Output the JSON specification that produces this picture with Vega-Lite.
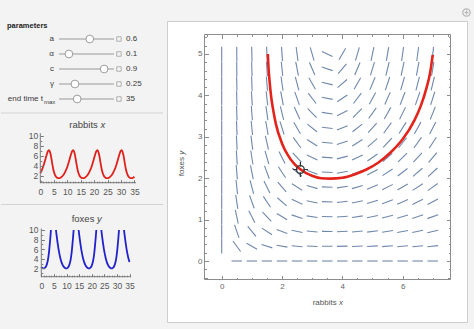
{
"$schema":"https://vega.github.io/schema/vega-lite/v6.json",
"background":"#f3f3f3",
"padding":0,
"spacing":1,
"config":{"view":{"stroke":null},"font":"Liberation Sans"},
"datasets":{
"params":[{"row":1,"label":"a","value":"0.6","pos":0.56},{"row":2,"label":"α","value":"0.1","pos":0.18},{"row":3,"label":"c","value":"0.9","pos":0.82},{"row":4,"label":"γ","value":"0.25","pos":0.29},{"row":5,"label":"","value":"35","pos":0.33}],
"field":[
{"x":0,"y":0.357,"a":90},{"x":0,"y":0.714,"a":90},{"x":0,"y":1.071,"a":90},{"x":0,"y":1.429,"a":90},{"x":0,"y":1.786,"a":90},{"x":0,"y":2.143,"a":90},{"x":0,"y":2.5,"a":90},{"x":0,"y":2.857,"a":90},{"x":0,"y":3.214,"a":90},{"x":0,"y":3.571,"a":90},{"x":0,"y":3.929,"a":90},{"x":0,"y":4.286,"a":90},{"x":0,"y":4.643,"a":90},{"x":0,"y":5,"a":90},
{"x":0.5,"y":0,"a":0},{"x":1,"y":0,"a":0},{"x":1.5,"y":0,"a":0},{"x":2,"y":0,"a":0},{"x":2.5,"y":0,"a":0},{"x":3,"y":0,"a":0},{"x":3.5,"y":0,"a":0},{"x":4,"y":0,"a":0},{"x":4.5,"y":0,"a":0},{"x":5,"y":0,"a":0},{"x":5.5,"y":0,"a":0},{"x":6,"y":0,"a":0},{"x":6.5,"y":0,"a":0},{"x":7,"y":0,"a":0},
{"x":0.5,"y":0.357,"a":53.6},{"x":0.5,"y":0.714,"a":71.0},{"x":0.5,"y":1.071,"a":77.9},{"x":0.5,"y":1.429,"a":81.5},{"x":0.5,"y":1.786,"a":83.7},{"x":0.5,"y":2.143,"a":85.2},{"x":0.5,"y":2.5,"a":86.3},{"x":0.5,"y":2.857,"a":87.1},{"x":0.5,"y":3.214,"a":87.7},{"x":0.5,"y":3.571,"a":88.2},{"x":0.5,"y":3.929,"a":88.6},{"x":0.5,"y":4.286,"a":88.9},{"x":0.5,"y":4.643,"a":89.2},{"x":0.5,"y":5,"a":89.5},
{"x":1,"y":0.357,"a":29.6},{"x":1,"y":0.714,"a":50.5},{"x":1,"y":1.071,"a":62.9},{"x":1,"y":1.429,"a":70.4},{"x":1,"y":1.786,"a":75.3},{"x":1,"y":2.143,"a":78.7},{"x":1,"y":2.5,"a":81.1},{"x":1,"y":2.857,"a":83.0},{"x":1,"y":3.214,"a":84.5},{"x":1,"y":3.571,"a":85.7},{"x":1,"y":3.929,"a":86.6},{"x":1,"y":4.286,"a":87.5},{"x":1,"y":4.643,"a":88.1},{"x":1,"y":5,"a":88.7},
{"x":1.5,"y":0.357,"a":17.0},{"x":1.5,"y":0.714,"a":33.2},{"x":1.5,"y":1.071,"a":46.5},{"x":1.5,"y":1.429,"a":56.5},{"x":1.5,"y":1.786,"a":64.0},{"x":1.5,"y":2.143,"a":69.6},{"x":1.5,"y":2.5,"a":73.9},{"x":1.5,"y":2.857,"a":77.2},{"x":1.5,"y":3.214,"a":79.8},{"x":1.5,"y":3.571,"a":82.0},{"x":1.5,"y":3.929,"a":83.8},{"x":1.5,"y":4.286,"a":85.3},{"x":1.5,"y":4.643,"a":86.5},{"x":1.5,"y":5,"a":87.6},
{"x":2,"y":0.357,"a":9.9},{"x":2,"y":0.714,"a":20.5},{"x":2,"y":1.071,"a":31.0},{"x":2,"y":1.429,"a":40.8},{"x":2,"y":1.786,"a":49.5},{"x":2,"y":2.143,"a":56.9},{"x":2,"y":2.5,"a":63.2},{"x":2,"y":2.857,"a":68.3},{"x":2,"y":3.214,"a":72.6},{"x":2,"y":3.571,"a":76.2},{"x":2,"y":3.929,"a":79.2},{"x":2,"y":4.286,"a":81.8},{"x":2,"y":4.643,"a":84.0},{"x":2,"y":5,"a":85.9},
{"x":2.5,"y":0.357,"a":5.5},{"x":2.5,"y":0.714,"a":11.6},{"x":2.5,"y":1.071,"a":18.3},{"x":2.5,"y":1.429,"a":25.4},{"x":2.5,"y":1.786,"a":32.8},{"x":2.5,"y":2.143,"a":40.2},{"x":2.5,"y":2.5,"a":47.4},{"x":2.5,"y":2.857,"a":54.1},{"x":2.5,"y":3.214,"a":60.3},{"x":2.5,"y":3.571,"a":65.9},{"x":2.5,"y":3.929,"a":70.9},{"x":2.5,"y":4.286,"a":75.3},{"x":2.5,"y":4.643,"a":79.1},{"x":2.5,"y":5,"a":82.5},
{"x":3,"y":0.357,"a":2.5},{"x":3,"y":0.714,"a":5.3},{"x":3,"y":1.071,"a":8.6},{"x":3,"y":1.429,"a":12.2},{"x":3,"y":1.786,"a":16.3},{"x":3,"y":2.143,"a":21.0},{"x":3,"y":2.5,"a":26.3},{"x":3,"y":2.857,"a":32.2},{"x":3,"y":3.214,"a":38.6},{"x":3,"y":3.571,"a":45.5},{"x":3,"y":3.929,"a":52.7},{"x":3,"y":4.286,"a":60.0},{"x":3,"y":4.643,"a":67.1},{"x":3,"y":5,"a":73.9},
{"x":3.5,"y":0.357,"a":0.4},{"x":3.5,"y":0.714,"a":0.8},{"x":3.5,"y":1.071,"a":1.2},{"x":3.5,"y":1.429,"a":1.8},{"x":3.5,"y":1.786,"a":2.4},{"x":3.5,"y":2.143,"a":3.1},{"x":3.5,"y":2.5,"a":4.0},{"x":3.5,"y":2.857,"a":5.1},{"x":3.5,"y":3.214,"a":6.5},{"x":3.5,"y":3.571,"a":8.3},{"x":3.5,"y":3.929,"a":10.6},{"x":3.5,"y":4.286,"a":13.9},{"x":3.5,"y":4.643,"a":18.7},{"x":3.5,"y":5,"a":26.3},
{"x":4,"y":0.357,"a":-1.3},{"x":4,"y":0.714,"a":-2.7},{"x":4,"y":1.071,"a":-4.3},{"x":4,"y":1.429,"a":-6.2},{"x":4,"y":1.786,"a":-8.3},{"x":4,"y":2.143,"a":-10.9},{"x":4,"y":2.5,"a":-13.9},{"x":4,"y":2.857,"a":-17.5},{"x":4,"y":3.214,"a":-21.8},{"x":4,"y":3.571,"a":-27.0},{"x":4,"y":3.929,"a":-33.3},{"x":4,"y":4.286,"a":-40.9},{"x":4,"y":4.643,"a":-49.8},{"x":4,"y":5,"a":-60.0},
{"x":4.5,"y":0.357,"a":-2.5},{"x":4.5,"y":0.714,"a":-5.3},{"x":4.5,"y":1.071,"a":-8.6},{"x":4.5,"y":1.429,"a":-12.2},{"x":4.5,"y":1.786,"a":-16.3},{"x":4.5,"y":2.143,"a":-21.0},{"x":4.5,"y":2.5,"a":-26.3},{"x":4.5,"y":2.857,"a":-32.2},{"x":4.5,"y":3.214,"a":-38.6},{"x":4.5,"y":3.571,"a":-45.5},{"x":4.5,"y":3.929,"a":-52.7},{"x":4.5,"y":4.286,"a":-60.0},{"x":4.5,"y":4.643,"a":-67.1},{"x":4.5,"y":5,"a":-73.9},
{"x":5,"y":0.357,"a":-3.5},{"x":5,"y":0.714,"a":-7.5},{"x":5,"y":1.071,"a":-11.9},{"x":5,"y":1.429,"a":-16.8},{"x":5,"y":1.786,"a":-22.3},{"x":5,"y":2.143,"a":-28.3},{"x":5,"y":2.5,"a":-34.7},{"x":5,"y":2.857,"a":-41.3},{"x":5,"y":3.214,"a":-48.2},{"x":5,"y":3.571,"a":-54.9},{"x":5,"y":3.929,"a":-61.4},{"x":5,"y":4.286,"a":-67.5},{"x":5,"y":4.643,"a":-73.2},{"x":5,"y":5,"a":-78.3},
{"x":5.5,"y":0.357,"a":-4.3},{"x":5.5,"y":0.714,"a":-9.2},{"x":5.5,"y":1.071,"a":-14.6},{"x":5.5,"y":1.429,"a":-20.5},{"x":5.5,"y":1.786,"a":-26.9},{"x":5.5,"y":2.143,"a":-33.6},{"x":5.5,"y":2.5,"a":-40.5},{"x":5.5,"y":2.857,"a":-47.4},{"x":5.5,"y":3.214,"a":-54.0},{"x":5.5,"y":3.571,"a":-60.4},{"x":5.5,"y":3.929,"a":-66.2},{"x":5.5,"y":4.286,"a":-71.5},{"x":5.5,"y":4.643,"a":-76.3},{"x":5.5,"y":5,"a":-80.5},
{"x":6,"y":0.357,"a":-5.0},{"x":6,"y":0.714,"a":-10.6},{"x":6,"y":1.071,"a":-16.7},{"x":6,"y":1.429,"a":-23.4},{"x":6,"y":1.786,"a":-30.4},{"x":6,"y":2.143,"a":-37.5},{"x":6,"y":2.5,"a":-44.7},{"x":6,"y":2.857,"a":-51.5},{"x":6,"y":3.214,"a":-57.9},{"x":6,"y":3.571,"a":-63.8},{"x":6,"y":3.929,"a":-69.1},{"x":6,"y":4.286,"a":-73.9},{"x":6,"y":4.643,"a":-78.1},{"x":6,"y":5,"a":-81.8},
{"x":6.5,"y":0.357,"a":-5.6},{"x":6.5,"y":0.714,"a":-11.8},{"x":6.5,"y":1.071,"a":-18.5},{"x":6.5,"y":1.429,"a":-25.7},{"x":6.5,"y":1.786,"a":-33.2},{"x":6.5,"y":2.143,"a":-40.6},{"x":6.5,"y":2.5,"a":-47.8},{"x":6.5,"y":2.857,"a":-54.5},{"x":6.5,"y":3.214,"a":-60.7},{"x":6.5,"y":3.571,"a":-66.2},{"x":6.5,"y":3.929,"a":-71.1},{"x":6.5,"y":4.286,"a":-75.5},{"x":6.5,"y":4.643,"a":-79.3},{"x":6.5,"y":5,"a":-82.6},
{"x":7,"y":0.357,"a":-6.1},{"x":7,"y":0.714,"a":-12.8},{"x":7,"y":1.071,"a":-20.0},{"x":7,"y":1.429,"a":-27.7},{"x":7,"y":1.786,"a":-35.4},{"x":7,"y":2.143,"a":-43.0},{"x":7,"y":2.5,"a":-50.2},{"x":7,"y":2.857,"a":-56.8},{"x":7,"y":3.214,"a":-62.7},{"x":7,"y":3.571,"a":-68.0},{"x":7,"y":3.929,"a":-72.6},{"x":7,"y":4.286,"a":-76.6},{"x":7,"y":4.643,"a":-80.1},{"x":7,"y":5,"a":-83.2}
],
"orbit":[{"x":1.53,"y":5.0},{"x":1.55,"y":4.7},{"x":1.6,"y":4.25},{"x":1.635,"y":4.0},{"x":1.7,"y":3.68},{"x":1.8,"y":3.3},{"x":2.0,"y":2.84},{"x":2.2,"y":2.55},{"x":2.4,"y":2.35},{"x":2.6,"y":2.22},{"x":2.8,"y":2.12},{"x":3.0,"y":2.06},{"x":3.3,"y":2.0},{"x":3.6,"y":1.99},{"x":4.0,"y":2.01},{"x":4.4,"y":2.09},{"x":4.8,"y":2.21},{"x":5.2,"y":2.38},{"x":5.6,"y":2.62},{"x":6.0,"y":2.94},{"x":6.4,"y":3.41},{"x":6.6,"y":3.74},{"x":6.8,"y":4.2},{"x":6.9,"y":4.5},{"x":6.95,"y":4.72},{"x":7.0,"y":4.98}],
"rab":[
{"t":0,"r":2.5},{"t":0.1,"r":2.6},{"t":0.29,"r":2.8},{"t":0.46,"r":3.0},{"t":0.7,"r":3.3},{"t":0.92,"r":3.6},{"t":1.17,"r":4.0},{"t":1.41,"r":4.4},{"t":1.63,"r":4.8},{"t":1.85,"r":5.2},{"t":2.05,"r":5.6},{"t":2.27,"r":6.0},{"t":2.49,"r":6.4},{"t":2.62,"r":6.6},{"t":2.76,"r":6.8},{"t":2.85,"r":6.9},{"t":2.96,"r":7.0},{"t":3.07,"r":7.07},{"t":3.18,"r":7.1},{"t":3.39,"r":7.0},{"t":3.57,"r":6.8},{"t":3.78,"r":6.4},{"t":3.94,"r":6.0},{"t":4.07,"r":5.6},{"t":4.2,"r":5.2},{"t":4.32,"r":4.8},{"t":4.44,"r":4.4},{"t":4.57,"r":4.0},{"t":4.71,"r":3.6},{"t":4.96,"r":3.0},{"t":5.16,"r":2.6},{"t":5.43,"r":2.2},{"t":5.61,"r":2.0},{"t":5.85,"r":1.8},{"t":6.01,"r":1.7},{"t":6.24,"r":1.6},{"t":6.54,"r":1.53},{"t":6.84,"r":1.5},{"t":7.19,"r":1.53},{"t":7.49,"r":1.6},{"t":7.78,"r":1.7},{"t":8.01,"r":1.8},{"t":8.36,"r":2.0},{"t":8.64,"r":2.2},{"t":8.89,"r":2.4},
{"t":9.1,"r":2.6},{"t":9.29,"r":2.8},{"t":9.46,"r":3.0},{"t":9.7,"r":3.3},{"t":9.92,"r":3.6},{"t":10.17,"r":4.0},{"t":10.41,"r":4.4},{"t":10.63,"r":4.8},{"t":10.85,"r":5.2},{"t":11.05,"r":5.6},{"t":11.27,"r":6.0},{"t":11.49,"r":6.4},{"t":11.62,"r":6.6},{"t":11.76,"r":6.8},{"t":11.85,"r":6.9},{"t":11.96,"r":7.0},{"t":12.07,"r":7.07},{"t":12.18,"r":7.1},{"t":12.39,"r":7.0},{"t":12.57,"r":6.8},{"t":12.78,"r":6.4},{"t":12.94,"r":6.0},{"t":13.07,"r":5.6},{"t":13.2,"r":5.2},{"t":13.32,"r":4.8},{"t":13.44,"r":4.4},{"t":13.57,"r":4.0},{"t":13.71,"r":3.6},{"t":13.96,"r":3.0},{"t":14.16,"r":2.6},{"t":14.43,"r":2.2},{"t":14.61,"r":2.0},{"t":14.85,"r":1.8},{"t":15.01,"r":1.7},{"t":15.24,"r":1.6},{"t":15.54,"r":1.53},{"t":15.84,"r":1.5},{"t":16.19,"r":1.53},{"t":16.49,"r":1.6},{"t":16.78,"r":1.7},{"t":17.01,"r":1.8},{"t":17.36,"r":2.0},{"t":17.64,"r":2.2},{"t":17.89,"r":2.4},
{"t":18.1,"r":2.6},{"t":18.29,"r":2.8},{"t":18.46,"r":3.0},{"t":18.7,"r":3.3},{"t":18.92,"r":3.6},{"t":19.17,"r":4.0},{"t":19.41,"r":4.4},{"t":19.63,"r":4.8},{"t":19.85,"r":5.2},{"t":20.05,"r":5.6},{"t":20.27,"r":6.0},{"t":20.49,"r":6.4},{"t":20.62,"r":6.6},{"t":20.76,"r":6.8},{"t":20.85,"r":6.9},{"t":20.96,"r":7.0},{"t":21.07,"r":7.07},{"t":21.18,"r":7.1},{"t":21.39,"r":7.0},{"t":21.57,"r":6.8},{"t":21.78,"r":6.4},{"t":21.94,"r":6.0},{"t":22.07,"r":5.6},{"t":22.2,"r":5.2},{"t":22.32,"r":4.8},{"t":22.44,"r":4.4},{"t":22.57,"r":4.0},{"t":22.71,"r":3.6},{"t":22.96,"r":3.0},{"t":23.16,"r":2.6},{"t":23.43,"r":2.2},{"t":23.61,"r":2.0},{"t":23.85,"r":1.8},{"t":24.01,"r":1.7},{"t":24.24,"r":1.6},{"t":24.54,"r":1.53},{"t":24.84,"r":1.5},{"t":25.19,"r":1.53},{"t":25.49,"r":1.6},{"t":25.78,"r":1.7},{"t":26.01,"r":1.8},{"t":26.36,"r":2.0},{"t":26.64,"r":2.2},{"t":26.89,"r":2.4},
{"t":27.1,"r":2.6},{"t":27.29,"r":2.8},{"t":27.46,"r":3.0},{"t":27.7,"r":3.3},{"t":27.92,"r":3.6},{"t":28.17,"r":4.0},{"t":28.41,"r":4.4},{"t":28.63,"r":4.8},{"t":28.85,"r":5.2},{"t":29.05,"r":5.6},{"t":29.27,"r":6.0},{"t":29.49,"r":6.4},{"t":29.62,"r":6.6},{"t":29.76,"r":6.8},{"t":29.85,"r":6.9},{"t":29.96,"r":7.0},{"t":30.07,"r":7.07},{"t":30.18,"r":7.1},{"t":30.39,"r":7.0},{"t":30.57,"r":6.8},{"t":30.78,"r":6.4},{"t":30.94,"r":6.0},{"t":31.07,"r":5.6},{"t":31.2,"r":5.2},{"t":31.32,"r":4.8},{"t":31.44,"r":4.4},{"t":31.57,"r":4.0},{"t":31.71,"r":3.6},{"t":31.96,"r":3.0},{"t":32.16,"r":2.6},{"t":32.43,"r":2.2},{"t":32.61,"r":2.0},{"t":32.85,"r":1.8},{"t":33.01,"r":1.7},{"t":33.24,"r":1.6},{"t":33.54,"r":1.53},{"t":33.84,"r":1.5},{"t":34.19,"r":1.53},{"t":34.49,"r":1.6},{"t":34.78,"r":1.7},{"t":35,"r":1.79}
],
"fox":[
{"t":0,"f":2.28,"s":1},{"t":0.1,"f":2.22,"s":1},{"t":0.29,"f":2.12,"s":1},{"t":0.46,"f":2.06,"s":1},{"t":0.7,"f":2.0,"s":1},{"t":0.92,"f":1.99,"s":1},{"t":1.17,"f":2.01,"s":1},{"t":1.41,"f":2.09,"s":1},{"t":1.63,"f":2.21,"s":1},{"t":1.85,"f":2.38,"s":1},{"t":2.05,"f":2.62,"s":1},{"t":2.27,"f":2.94,"s":1},{"t":2.49,"f":3.41,"s":1},{"t":2.62,"f":3.74,"s":1},{"t":2.76,"f":4.2,"s":1},{"t":2.85,"f":4.5,"s":1},{"t":2.96,"f":4.95,"s":1},{"t":3.07,"f":5.45,"s":1},{"t":3.18,"f":6.0,"s":1},{"t":3.39,"f":7.2,"s":1},{"t":3.57,"f":8.26,"s":1},{"t":3.78,"f":9.65,"s":1},{"t":3.835,"f":10,"s":1},
{"t":5.818,"f":10,"s":2},{"t":5.85,"f":9.86,"s":2},{"t":6.01,"f":9.15,"s":2},{"t":6.24,"f":8.18,"s":2},{"t":6.54,"f":7.05,"s":2},{"t":6.84,"f":6.0,"s":2},{"t":7.19,"f":5.0,"s":2},{"t":7.49,"f":4.25,"s":2},{"t":7.78,"f":3.68,"s":2},{"t":8.01,"f":3.3,"s":2},{"t":8.36,"f":2.84,"s":2},{"t":8.64,"f":2.55,"s":2},{"t":8.89,"f":2.35,"s":2},{"t":9.1,"f":2.22,"s":2},{"t":9.29,"f":2.12,"s":2},{"t":9.46,"f":2.06,"s":2},{"t":9.7,"f":2.0,"s":2},{"t":9.92,"f":1.99,"s":2},{"t":10.17,"f":2.01,"s":2},{"t":10.41,"f":2.09,"s":2},{"t":10.63,"f":2.21,"s":2},{"t":10.85,"f":2.38,"s":2},{"t":11.05,"f":2.62,"s":2},{"t":11.27,"f":2.94,"s":2},{"t":11.49,"f":3.41,"s":2},{"t":11.62,"f":3.74,"s":2},{"t":11.76,"f":4.2,"s":2},{"t":11.85,"f":4.5,"s":2},{"t":11.96,"f":4.95,"s":2},{"t":12.07,"f":5.45,"s":2},{"t":12.18,"f":6.0,"s":2},{"t":12.39,"f":7.2,"s":2},{"t":12.57,"f":8.26,"s":2},{"t":12.78,"f":9.65,"s":2},{"t":12.835,"f":10,"s":2},
{"t":14.818,"f":10,"s":3},{"t":14.85,"f":9.86,"s":3},{"t":15.01,"f":9.15,"s":3},{"t":15.24,"f":8.18,"s":3},{"t":15.54,"f":7.05,"s":3},{"t":15.84,"f":6.0,"s":3},{"t":16.19,"f":5.0,"s":3},{"t":16.49,"f":4.25,"s":3},{"t":16.78,"f":3.68,"s":3},{"t":17.01,"f":3.3,"s":3},{"t":17.36,"f":2.84,"s":3},{"t":17.64,"f":2.55,"s":3},{"t":17.89,"f":2.35,"s":3},{"t":18.1,"f":2.22,"s":3},{"t":18.29,"f":2.12,"s":3},{"t":18.46,"f":2.06,"s":3},{"t":18.7,"f":2.0,"s":3},{"t":18.92,"f":1.99,"s":3},{"t":19.17,"f":2.01,"s":3},{"t":19.41,"f":2.09,"s":3},{"t":19.63,"f":2.21,"s":3},{"t":19.85,"f":2.38,"s":3},{"t":20.05,"f":2.62,"s":3},{"t":20.27,"f":2.94,"s":3},{"t":20.49,"f":3.41,"s":3},{"t":20.62,"f":3.74,"s":3},{"t":20.76,"f":4.2,"s":3},{"t":20.85,"f":4.5,"s":3},{"t":20.96,"f":4.95,"s":3},{"t":21.07,"f":5.45,"s":3},{"t":21.18,"f":6.0,"s":3},{"t":21.39,"f":7.2,"s":3},{"t":21.57,"f":8.26,"s":3},{"t":21.78,"f":9.65,"s":3},{"t":21.835,"f":10,"s":3},
{"t":23.818,"f":10,"s":4},{"t":23.85,"f":9.86,"s":4},{"t":24.01,"f":9.15,"s":4},{"t":24.24,"f":8.18,"s":4},{"t":24.54,"f":7.05,"s":4},{"t":24.84,"f":6.0,"s":4},{"t":25.19,"f":5.0,"s":4},{"t":25.49,"f":4.25,"s":4},{"t":25.78,"f":3.68,"s":4},{"t":26.01,"f":3.3,"s":4},{"t":26.36,"f":2.84,"s":4},{"t":26.64,"f":2.55,"s":4},{"t":26.89,"f":2.35,"s":4},{"t":27.1,"f":2.22,"s":4},{"t":27.29,"f":2.12,"s":4},{"t":27.46,"f":2.06,"s":4},{"t":27.7,"f":2.0,"s":4},{"t":27.92,"f":1.99,"s":4},{"t":28.17,"f":2.01,"s":4},{"t":28.41,"f":2.09,"s":4},{"t":28.63,"f":2.21,"s":4},{"t":28.85,"f":2.38,"s":4},{"t":29.05,"f":2.62,"s":4},{"t":29.27,"f":2.94,"s":4},{"t":29.49,"f":3.41,"s":4},{"t":29.62,"f":3.74,"s":4},{"t":29.76,"f":4.2,"s":4},{"t":29.85,"f":4.5,"s":4},{"t":29.96,"f":4.95,"s":4},{"t":30.07,"f":5.45,"s":4},{"t":30.18,"f":6.0,"s":4},{"t":30.39,"f":7.2,"s":4},{"t":30.57,"f":8.26,"s":4},{"t":30.78,"f":9.65,"s":4},{"t":30.835,"f":10,"s":4},
{"t":32.818,"f":10,"s":5},{"t":32.85,"f":9.86,"s":5},{"t":33.01,"f":9.15,"s":5},{"t":33.24,"f":8.18,"s":5},{"t":33.54,"f":7.05,"s":5},{"t":33.84,"f":6.0,"s":5},{"t":34.19,"f":5.0,"s":5},{"t":34.49,"f":4.25,"s":5},{"t":34.78,"f":3.68,"s":5},{"t":35,"f":3.32,"s":5}
]
},
"hconcat":[
{"vconcat":[
{"width":165,"height":114,"view":{"fill":"#f3f3f3","stroke":null},
"layer":[
{"data":{"name":"params"},"mark":{"type":"rule","color":"#c6c6c6","strokeWidth":2},
"encoding":{"x":{"datum":0,"type":"quantitative","scale":{"domain":[-1.05455,1.94545],"nice":false,"zero":false},"axis":null},"x2":{"datum":1},
"y":{"field":"row","type":"quantitative","scale":{"domain":[-1.6,6.0],"reverse":true,"nice":false,"zero":false},"axis":null}}},
{"data":{"name":"params"},"mark":{"type":"point","shape":"circle","size":60,"filled":true,"fill":"#ffffff","stroke":"#9c9c9c","strokeWidth":1,"opacity":1},
"encoding":{"x":{"field":"pos","type":"quantitative"},"y":{"field":"row","type":"quantitative"}}},
{"data":{"name":"params"},"mark":{"type":"point","shape":"square","size":20,"filled":false,"color":"#b0b0b0","strokeWidth":1,"opacity":1},
"encoding":{"x":{"datum":1.09,"type":"quantitative"},"y":{"field":"row","type":"quantitative"}}},
{"data":{"name":"params"},"mark":{"type":"text","align":"left","baseline":"middle","fontSize":8,"color":"#3a3a3a"},
"encoding":{"x":{"datum":1.22,"type":"quantitative"},"y":{"field":"row","type":"quantitative"},"text":{"field":"value"}}},
{"data":{"name":"params"},"mark":{"type":"text","align":"right","baseline":"middle","fontSize":8,"color":"#3a3a3a"},
"encoding":{"x":{"datum":-0.091,"type":"quantitative"},"y":{"field":"row","type":"quantitative"},"text":{"field":"label"}}},
{"data":{"values":[{}]},"mark":{"type":"text","text":"end time t","align":"right","baseline":"middle","fontSize":8,"color":"#3a3a3a"},
"encoding":{"x":{"datum":-0.291,"type":"quantitative"},"y":{"datum":5,"type":"quantitative"}}},
{"data":{"values":[{}]},"mark":{"type":"text","text":"max","align":"left","baseline":"middle","fontSize":6,"color":"#3a3a3a"},
"encoding":{"x":{"datum":-0.273,"type":"quantitative"},"y":{"datum":5.17,"type":"quantitative"}}},
{"data":{"values":[{}]},"mark":{"type":"text","text":"parameters","align":"left","baseline":"middle","fontSize":7.5,"fontWeight":"bold","color":"#222222"},
"encoding":{"x":{"datum":-0.945,"type":"quantitative"},"y":{"datum":0.13,"type":"quantitative"}}},
{"data":{"values":[{}]},"mark":{"type":"rule","color":"#d2d2d2","strokeWidth":1},
"encoding":{"x":{"datum":-1.05455,"type":"quantitative"},"x2":{"datum":1.891},"y":{"datum":5.933,"type":"quantitative"}}}
]},
{"width":165,"height":91,"view":{"fill":"#f3f3f3","stroke":null},
"resolve":{"axis":{"x":"independent","y":"independent"}},
"layer":[
{"data":{"name":"rab"},"mark":{"type":"line","color":"#e0201b","strokeWidth":1.8,"interpolate":"monotone"},
"encoding":{
"x":{"field":"t","type":"quantitative","scale":{"domain":[-14.61,46.728],"nice":false,"zero":false},
"axis":{"orient":"bottom","offset":-22.3,"values":[0,5,10,15,20,25,30,35],"format":"d","tickSize":-3,"tickColor":"#777777","labelFontSize":8.5,"labelColor":"#555555","labelPadding":8,"labelOverlap":false,"labelFlush":false,"domain":false,"grid":false,"title":null,"zindex":1}},
"y":{"field":"r","type":"quantitative","scale":{"domain":[-3.86,14.34],"nice":false,"zero":false},
"axis":{"orient":"left","offset":-39.3,"values":[2,4,6,8,10],"format":"d","tickSize":-3,"tickColor":"#777777","labelFontSize":8.5,"labelColor":"#555555","labelPadding":5.6,"labelOverlap":false,"labelFlush":false,"domain":false,"grid":false,"title":null,"zindex":1}}}},
{"data":{"values":[{}]},"mark":{"type":"rule","color":"#7a7a7a","strokeWidth":1},
"encoding":{"x":{"datum":0,"type":"quantitative","axis":{"orient":"bottom","offset":-22.3,"values":[1,2,3,4,6,7,8,9,11,12,13,14,16,17,18,19,21,22,23,24,26,27,28,29,31,32,33,34],"labels":false,"tickSize":-1.5,"tickColor":"#777777","domain":false,"grid":false,"title":null,"zindex":1}},"x2":{"datum":35.6},"y":{"datum":0.6,"type":"quantitative","axis":null}}},
{"data":{"values":[{}]},"mark":{"type":"rule","color":"#7a7a7a","strokeWidth":1},
"encoding":{"x":{"datum":0,"type":"quantitative","axis":null},"y":{"datum":0.6,"type":"quantitative","axis":{"orient":"left","offset":-39.3,"values":[1,3,5,7,9],"labels":false,"tickSize":-1.5,"tickColor":"#777777","domain":false,"grid":false,"title":null,"zindex":1}},"y2":{"datum":10.5}}},
{"data":{"values":[{}]},"mark":{"type":"text","text":"rabbits","align":"right","baseline":"middle","fontSize":9.5,"color":"#444444"},
"encoding":{"x":{"datum":21.38,"type":"quantitative","axis":null},"y":{"datum":12.14,"type":"quantitative","axis":null}}},
{"data":{"values":[{}]},"mark":{"type":"text","text":"x","align":"left","baseline":"middle","fontSize":9.5,"fontStyle":"italic","color":"#444444"},
"encoding":{"x":{"datum":22.34,"type":"quantitative","axis":null},"y":{"datum":12.14,"type":"quantitative","axis":null}}},
{"data":{"values":[{}]},"mark":{"type":"rule","color":"#d2d2d2","strokeWidth":1},
"encoding":{"x":{"datum":-14.61,"type":"quantitative","axis":null},"x2":{"datum":45.61},"y":{"datum":-3.76,"type":"quantitative","axis":null}}}
]},
{"width":165,"height":124,"view":{"fill":"#f3f3f3","stroke":null},
"resolve":{"axis":{"x":"independent","y":"independent"}},
"layer":[
{"data":{"name":"fox"},"mark":{"type":"line","color":"#2222cc","strokeWidth":1.8,"interpolate":"monotone"},
"encoding":{
"x":{"field":"t","type":"quantitative","scale":{"domain":[-15.992,49.484],"nice":false,"zero":false},
"axis":{"orient":"bottom","offset":-52.3,"values":[0,5,10,15,20,25,30,35],"format":"d","tickSize":-3,"tickColor":"#777777","labelFontSize":8.5,"labelColor":"#555555","labelPadding":8,"labelOverlap":false,"labelFlush":false,"domain":false,"grid":false,"title":null,"zindex":1}},
"y":{"field":"f","type":"quantitative","scale":{"domain":[-10.668,15.219],"nice":false,"zero":false},
"axis":{"orient":"left","offset":-40.3,"values":[2,4,6,8,10],"format":"d","tickSize":-3,"tickColor":"#777777","labelFontSize":8.5,"labelColor":"#555555","labelPadding":6.3,"labelOverlap":false,"labelFlush":false,"domain":false,"grid":false,"title":null,"zindex":1}},
"detail":{"field":"s","type":"nominal"}}},
{"data":{"values":[{}]},"mark":{"type":"rule","color":"#7a7a7a","strokeWidth":1},
"encoding":{"x":{"datum":0,"type":"quantitative","axis":{"orient":"bottom","offset":-52.3,"values":[1,2,3,4,6,7,8,9,11,12,13,14,16,17,18,19,21,22,23,24,26,27,28,29,31,32,33,34],"labels":false,"tickSize":-1.5,"tickColor":"#777777","domain":false,"grid":false,"title":null,"zindex":1}},"x2":{"datum":35.6},"y":{"datum":0.25,"type":"quantitative","axis":null}}},
{"data":{"values":[{}]},"mark":{"type":"rule","color":"#7a7a7a","strokeWidth":1},
"encoding":{"x":{"datum":0,"type":"quantitative","axis":null},"y":{"datum":0.25,"type":"quantitative","axis":{"orient":"left","offset":-40.3,"values":[1,3,5,7,9],"labels":false,"tickSize":-1.5,"tickColor":"#777777","domain":false,"grid":false,"title":null,"zindex":1}},"y2":{"datum":10.3}}},
{"data":{"values":[{}]},"mark":{"type":"text","text":"foxes","align":"right","baseline":"middle","fontSize":9.5,"color":"#444444"},
"encoding":{"x":{"datum":21.07,"type":"quantitative","axis":null},"y":{"datum":12.3,"type":"quantitative","axis":null}}},
{"data":{"values":[{}]},"mark":{"type":"text","text":"y","align":"left","baseline":"middle","fontSize":9.5,"fontStyle":"italic","color":"#444444"},
"encoding":{"x":{"datum":22.1,"type":"quantitative","axis":null},"y":{"datum":12.3,"type":"quantitative","axis":null}}}
]}
],"spacing":0,"bounds":"flush"},
{"width":308,"height":329,"view":{"fill":"#f3f3f3","stroke":null},
"resolve":{"axis":{"x":"independent","y":"independent"}},
"layer":[
{"data":{"values":[{}]},"mark":{"type":"rect","fill":"#ffffff","stroke":"#cdcdcd","strokeWidth":1},
"encoding":{
"x":{"datum":-1.7977,"type":"quantitative","scale":{"domain":[-1.8143,8.4013],"nice":false,"zero":false},
"axis":{"orient":"bottom","offset":-49.5,"values":[0,2,4,6],"format":"d","tickSize":-4,"tickColor":"#8c8c8c","labelFontSize":8,"labelColor":"#666666","labelPadding":6.5,"labelOverlap":false,"labelFlush":false,"domain":false,"grid":false,"title":null,"zindex":1}},
"x2":{"datum":8.1525},
"y":{"datum":-1.4855,"type":"quantitative","scale":{"domain":[-1.6425,6.3043],"nice":false,"zero":false},
"axis":{"orient":"left","offset":-37.5,"values":[0,1,2,3,4,5],"format":"d","tickSize":-4,"tickColor":"#8c8c8c","labelFontSize":8,"labelColor":"#666666","labelPadding":6.5,"labelOverlap":false,"labelFlush":false,"domain":false,"grid":false,"title":null,"zindex":1}},
"y2":{"datum":5.785}}},
{"data":{"values":[{}]},"mark":{"type":"rect","fill":"#ffffff","fillOpacity":0,"stroke":"#8c8c8c","strokeWidth":1},
"encoding":{
"x":{"datum":-0.5705,"type":"quantitative",
"axis":{"orient":"top","offset":-34.5,"values":[0,2,4,6],"labels":false,"tickSize":-4,"tickColor":"#8c8c8c","domain":false,"grid":false,"title":null,"zindex":1}},
"x2":{"datum":7.5887},
"y":{"datum":-0.4469,"type":"quantitative",
"axis":{"orient":"right","offset":-24.5,"values":[0,1,2,3,4,5],"labels":false,"tickSize":-4,"tickColor":"#8c8c8c","domain":false,"grid":false,"title":null,"zindex":1}},
"y2":{"datum":5.471}}},
{"data":{"name":"field"},"mark":{"type":"point","shape":"M-1,0L1,0","filled":false,"color":"#6f88ae","strokeWidth":1.1,"opacity":1},
"encoding":{
"x":{"field":"x","type":"quantitative","axis":{"orient":"bottom","offset":-49.5,"values":[-0.5,0.5,1,1.5,2.5,3,3.5,4.5,5,5.5,6.5,7,7.5],"labels":false,"tickSize":-2,"tickColor":"#8c8c8c","domain":false,"grid":false,"title":null,"zindex":1}},
"y":{"field":"y","type":"quantitative","axis":{"orient":"left","offset":-37.5,"values":[-0.4,-0.2,0.2,0.4,0.6,0.8,1.2,1.4,1.6,1.8,2.2,2.4,2.6,2.8,3.2,3.4,3.6,3.8,4.2,4.4,4.6,4.8,5.2,5.4],"labels":false,"tickSize":-2,"tickColor":"#8c8c8c","domain":false,"grid":false,"title":null,"zindex":1}},
"angle":{"field":"a","type":"quantitative","scale":null},
"size":{"field":"a","type":"quantitative","scale":{"domain":[-90,0,90],"range":[210,110,210]},"legend":null}}},
{"data":{"name":"orbit"},"mark":{"type":"line","color":"#e3241b","strokeWidth":2.6,"interpolate":"monotone"},
"encoding":{
"x":{"field":"x","type":"quantitative","axis":{"orient":"top","offset":-34.5,"values":[-0.5,0.5,1,1.5,2.5,3,3.5,4.5,5,5.5,6.5,7,7.5],"labels":false,"tickSize":-2,"tickColor":"#8c8c8c","domain":false,"grid":false,"title":null,"zindex":1}},
"y":{"field":"y","type":"quantitative","axis":{"orient":"right","offset":-24.5,"values":[-0.4,-0.2,0.2,0.4,0.6,0.8,1.2,1.4,1.6,1.8,2.2,2.4,2.6,2.8,3.2,3.4,3.6,3.8,4.2,4.4,4.6,4.8,5.2,5.4],"labels":false,"tickSize":-2,"tickColor":"#8c8c8c","domain":false,"grid":false,"title":null,"zindex":1}}}},
{"data":{"values":[{"x":2.61,"y":2.21}]},"mark":{"type":"point","shape":"circle","size":60,"filled":false,"color":"#333333","strokeWidth":1.3,"opacity":1},
"encoding":{"x":{"field":"x","type":"quantitative","axis":null},"y":{"field":"y","type":"quantitative","axis":null}}},
{"data":{"values":[{"x":2.61,"y":2.21}]},"mark":{"type":"point","shape":"M-1,0L-0.4,0M0.4,0L1,0M0,-1L0,-0.4M0,0.4L0,1","size":225,"filled":false,"color":"#333333","strokeWidth":1.2,"opacity":1},
"encoding":{"x":{"field":"x","type":"quantitative","axis":null},"y":{"field":"y","type":"quantitative","axis":null}}},
{"data":{"values":[{}]},"mark":{"type":"text","text":"rabbits","align":"right","baseline":"middle","fontSize":8,"color":"#555555"},
"encoding":{"x":{"datum":3.814,"type":"quantitative","axis":null},"y":{"datum":-1.007,"type":"quantitative","axis":null}}},
{"data":{"values":[{}]},"mark":{"type":"text","text":"x","align":"left","baseline":"middle","fontSize":8,"fontStyle":"italic","color":"#555555"},
"encoding":{"x":{"datum":3.887,"type":"quantitative","axis":null},"y":{"datum":-1.007,"type":"quantitative","axis":null}}},
{"data":{"values":[{}]},"mark":{"type":"text","text":"foxes","angle":270,"align":"right","baseline":"middle","fontSize":8,"color":"#555555"},
"encoding":{"x":{"datum":-1.317,"type":"quantitative","axis":null},"y":{"datum":2.512,"type":"quantitative","axis":null}}},
{"data":{"values":[{}]},"mark":{"type":"text","text":"y","angle":270,"align":"left","baseline":"middle","fontSize":8,"fontStyle":"italic","color":"#555555"},
"encoding":{"x":{"datum":-1.317,"type":"quantitative","axis":null},"y":{"datum":2.568,"type":"quantitative","axis":null}}},
{"data":{"values":[{}]},"mark":{"type":"point","shape":"circle","size":55,"filled":false,"color":"#b5b5b5","strokeWidth":1.2,"opacity":1},
"encoding":{"x":{"datum":8.119,"type":"quantitative","axis":null},"y":{"datum":6.002,"type":"quantitative","axis":null}}},
{"data":{"values":[{}]},"mark":{"type":"point","shape":"M-1,0L1,0M0,-1L0,1","size":16,"filled":false,"color":"#b5b5b5","strokeWidth":1.2,"opacity":1},
"encoding":{"x":{"datum":8.119,"type":"quantitative","axis":null},"y":{"datum":6.002,"type":"quantitative","axis":null}}}
]}
]
}
